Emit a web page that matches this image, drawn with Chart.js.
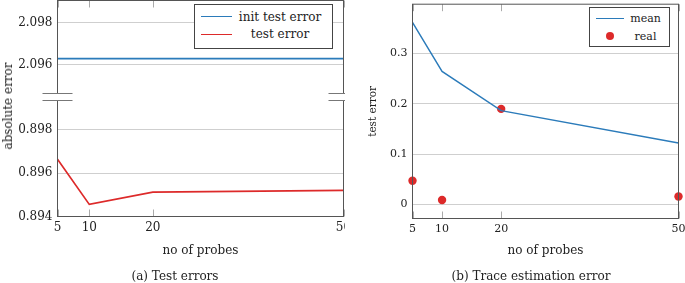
<!DOCTYPE html>
<html>
<head>
<meta charset="utf-8">
<script src="https://cdn.jsdelivr.net/npm/chart.js@4.4.1/dist/chart.umd.min.js"></script>
<style>
  body { margin: 0; background: #fff; width: 685px; height: 283px; overflow: hidden; position: relative;
         font-family: 'DejaVu Serif', serif; color: #222; }
  .panel { position: absolute; top: 0; height: 283px; overflow: hidden; }
  .legend { position: absolute; box-sizing: border-box; border: 1px solid #444; background: #fff; }
  .row { display: flex; align-items: center; }
  .swatch { display: flex; align-items: center; justify-content: center; }
  .lbl { text-align: center; white-space: nowrap; }
  .caption { position: absolute; font-size: 12px; white-space: nowrap; transform: translate(-50%, -50%); }
  .ytitle { position: absolute; font-size: 12px; white-space: nowrap; transform: translate(-50%, -50%) rotate(-90deg); }
</style>
</head>
<body>
<div class="panel" style="left:0;width:345px"><canvas id="errChart" width="345" height="283"></canvas></div>
<div class="panel" style="left:345px;width:340px"><canvas id="traceChart" width="340" height="283"></canvas></div>
<div class="ytitle" style="left:8px;top:106px">absolute error</div>
<div class="legend" id="leg1" style="left:194px;top:4px;width:139px;height:45px;padding-top:3px"></div>
<div class="legend" id="leg2" style="left:589px;top:7px;width:81px;height:40px;padding-top:1px"></div>
<div class="caption" style="left:175px;top:276px">(a) Test errors</div>
<div class="caption" style="left:531px;top:276px">(b) Trace estimation error</div>

<script>
// values
const probes = [5, 10, 20, 50];
const initTestError = [2.0963, 2.0963, 2.0963, 2.0963];
const testError = [0.89665, 0.89456, 0.89513, 0.89521];
const traceMean = [0.362, 0.2645, 0.1865, 0.122];
const traceReal = [0.047, 0.0085, 0.19, 0.0155];
const upperTicks = [2.096, 2.098];
const lowerTicks = [0.894, 0.896, 0.898];
const traceTicks = [0, 0.1, 0.2, 0.3];

const BLUE = '#2b7bba';
const RED = '#dd2a2a';
const FONT = "'DejaVu Serif', serif";

const pts = (ys) => probes.map((p, i) => ({ x: p, y: ys[i] }));

// pgfplots-ish frame: box, inward x ticks top & bottom, optional axis break
const framePlugin = {
    id: 'frame',
    afterDraw(chart, args, opts) {
        const { ctx, chartArea: { left, right, top, bottom }, scales } = chart;
        ctx.save();
        ctx.lineWidth = 1;
        ctx.strokeStyle = '#aaa';
        probes.forEach(p => {
            const x = Math.round(scales.x.getPixelForValue(p)) + 0.5;
            ctx.beginPath();
            ctx.moveTo(x, top); ctx.lineTo(x, top + 7);
            ctx.moveTo(x, bottom); ctx.lineTo(x, bottom - 7);
            ctx.stroke();
        });
        ctx.strokeStyle = '#555';
        ctx.strokeRect(left, top, right - left, bottom - top);
        if (opts.breakScale) {
            const yb = scales[opts.breakScale].bottom;
            ctx.fillStyle = '#fff';
            ctx.fillRect(left - 16, yb - 3, right - left + 32, 6);
            ctx.strokeStyle = '#777';
            [left, right].forEach(x => {
                [yb - 3.5, yb + 3.5].forEach(y => {
                    ctx.beginPath(); ctx.moveTo(x - 15, y); ctx.lineTo(x + 15, y); ctx.stroke();
                });
            });
        }
        ctx.restore();
    }
};

function xAxis(size, height, padding) {
    return {
        type: 'linear', min: 5, max: 50,
        afterBuildTicks: s => { s.ticks = probes.map(v => ({ value: v })); },
        grid: { display: false, drawTicks: false },
        border: { display: false },
        ticks: { padding: padding, color: '#222', font: { family: FONT, size: size }, maxRotation: 0, autoSkip: false },
        title: { display: true, text: 'no of probes', color: '#222', font: { family: FONT, size: 12 }, padding: { top: 0, bottom: 3 } },
        afterFit(s) { s.height = height; s.paddingLeft = 0; s.paddingRight = 0; }
    };
}

function yAxis(ticks, min, max, width, size, fmt, extra) {
    return Object.assign({
        type: 'linear', position: 'left', min: min, max: max,
        afterBuildTicks: s => { s.ticks = ticks.map(v => ({ value: v })); },
        grid: { color: '#cfcfcf', drawTicks: false },
        border: { display: false },
        ticks: { padding: 5, color: '#222', font: { family: FONT, size: size }, callback: fmt },
        afterFit(s) { s.width = width; s.paddingTop = 0; s.paddingBottom = 0; }
    }, extra);
}

new Chart(document.getElementById('errChart'), {
    type: 'line',
    data: {
        datasets: [
            { label: 'init test error', data: pts(initTestError), yAxisID: 'yTop', borderColor: BLUE, borderWidth: 1.7, pointRadius: 0, tension: 0 },
            { label: 'test error', data: pts(testError), yAxisID: 'yBot', borderColor: RED, borderWidth: 1.7, pointRadius: 0, tension: 0 }
        ]
    },
    options: {
        responsive: false,
        animation: false,
        layout: { padding: { left: 0, right: 1.5, top: 0.5, bottom: 21.5 } },
        plugins: { legend: { display: false }, tooltip: { enabled: false }, frame: { breakScale: 'yTop' } },
        scales: {
            x: xAxis(12, 45, 4),
            yTop: yAxis(upperTicks, 2.094494, 2.099035, 57.5, 12, v => v.toFixed(3), { stack: 'err', stackWeight: 96.5, weight: 1 }),
            yBot: yAxis(lowerTicks, 0.894, 0.899526, 57.5, 12, v => v.toFixed(3), { stack: 'err', stackWeight: 119.5, weight: 0 })
        }
    },
    plugins: [framePlugin]
});

new Chart(document.getElementById('traceChart'), {
    type: 'line',
    data: {
        datasets: [
            { label: 'mean', data: pts(traceMean), borderColor: BLUE, borderWidth: 1.4, pointRadius: 0, tension: 0 },
            { label: 'real', data: pts(traceReal), showLine: false, pointRadius: 4.2, pointBackgroundColor: RED, pointBorderWidth: 0, borderColor: RED, clip: false }
        ]
    },
    options: {
        responsive: false,
        animation: false,
        layout: { padding: { left: 0, right: 6.5, top: 0.5, bottom: 21.5 } },
        plugins: { legend: { display: false }, tooltip: { enabled: false }, frame: {} },
        scales: {
            x: xAxis(11, 43, 4),
            y: yAxis(traceTicks, -0.02825, 0.3984, 67.5, 11, v => v === 0 ? '0' : v.toFixed(1), {
                title: { display: true, text: 'test error', color: '#222', font: { family: FONT, size: 10.5 }, padding: { top: 21.7, bottom: 0 } }
            })
        }
    },
    plugins: [framePlugin]
});

// legends built from the series
function buildLegend(el, items, swW, swLeft, txtW, rowH, fs) {
    items.forEach(it => {
        const row = document.createElement('div');
        row.className = 'row';
        row.style.height = rowH + 'px';
        const sw = document.createElement('div');
        sw.className = 'swatch';
        sw.style.width = swW + 'px';
        sw.style.marginLeft = swLeft + 'px';
        sw.style.height = rowH + 'px';
        const mark = document.createElement('div');
        if (it.kind === 'line') {
            mark.style.cssText = 'width:' + swW + 'px;height:0;border-top:1.7px solid ' + it.color;
        } else {
            mark.style.cssText = 'width:8px;height:8px;border-radius:50%;background:' + it.color;
        }
        sw.appendChild(mark);
        const t = document.createElement('div');
        t.className = 'lbl';
        t.style.width = txtW + 'px';
        t.style.marginLeft = '5px';
        t.style.fontSize = fs + 'px';
        t.textContent = it.label;
        row.appendChild(sw); row.appendChild(t);
        el.appendChild(row);
    });
}
buildLegend(document.getElementById('leg1'), [
    { label: 'init test error', color: BLUE, kind: 'line' },
    { label: 'test error', color: RED, kind: 'line' }
], 31, 6, 86, 17.5, 12);
buildLegend(document.getElementById('leg2'), [
    { label: 'mean', color: BLUE, kind: 'line' },
    { label: 'real', color: RED, kind: 'dot' }
], 28, 6, 33, 18, 11);
</script>
</body>
</html>
